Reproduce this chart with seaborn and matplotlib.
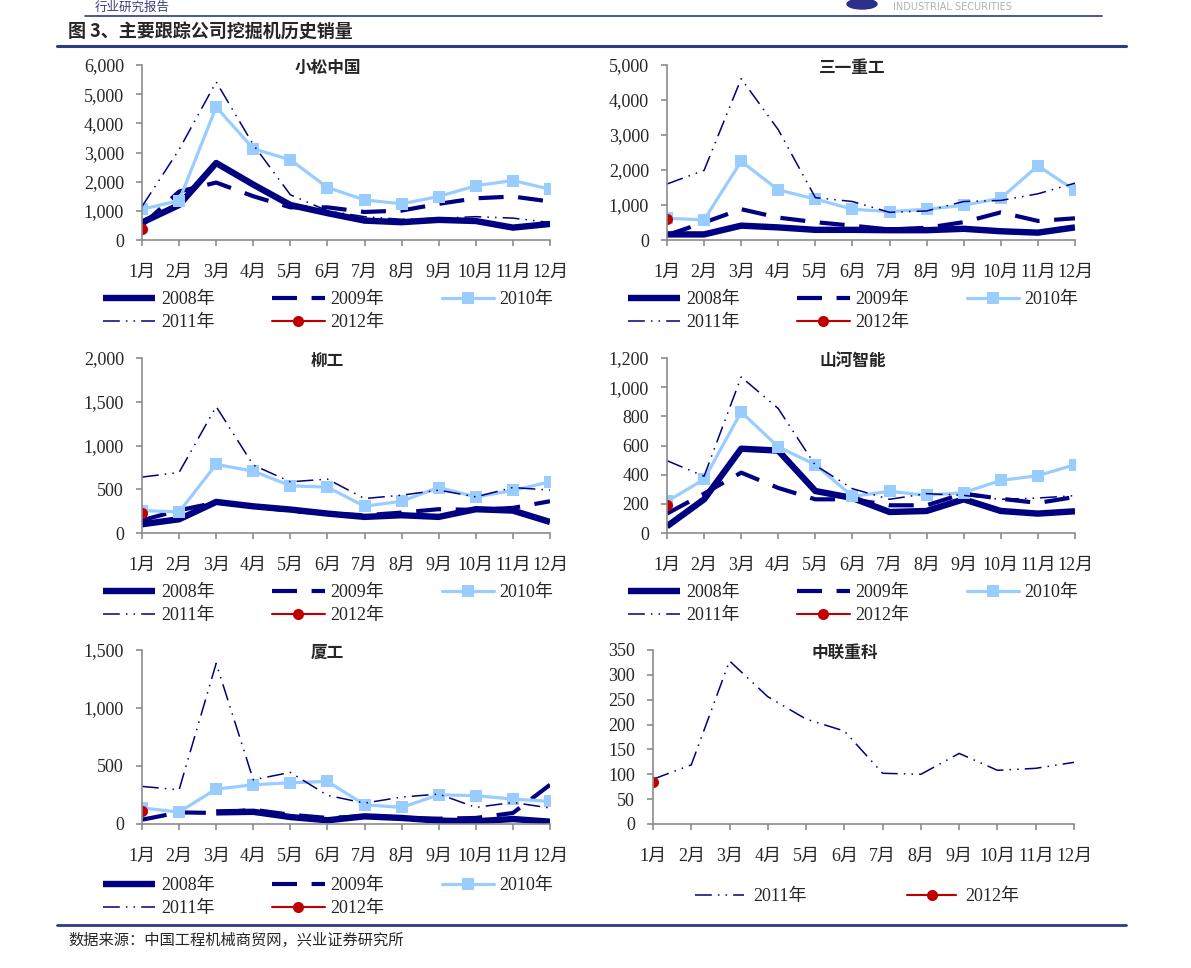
import numpy as np
import seaborn as sns
import matplotlib.pyplot as plt
from matplotlib.ticker import StrMethodFormatter, MultipleLocator
from matplotlib.patches import Ellipse
from matplotlib.lines import Line2D

nan = np.nan
months = [f"{i}月" for i in range(1, 13)]
years = ["2008年", "2009年", "2010年", "2011年", "2012年"]

# 小松中国
komatsu_08 = [600, 1200, 2640, 1900, 1200, 920, 665, 610, 690, 650, 425, 550]
komatsu_09 = [500, 1660, 1970, 1500, 1120, 1120, 960, 1010, 1240, 1430, 1490, 1320]
komatsu_10 = [1055, 1350, 4560, 3130, 2750, 1800, 1375, 1240, 1490, 1860, 2040, 1740]
komatsu_11 = [1150, 3100, 5420, 3270, 1550, 1000, 800, 710, 745, 800, 750, 600]
komatsu_12 = [370] + [nan] * 11

# 三一重工
sany_08 = [160, 160, 410, 360, 290, 290, 280, 280, 320, 250, 210, 360]
sany_09 = [140, 500, 880, 640, 510, 410, 300, 350, 510, 790, 545, 620]
sany_10 = [620, 575, 2250, 1430, 1170, 880, 810, 880, 990, 1195, 2120, 1415]
sany_11 = [1600, 1990, 4610, 3150, 1210, 1100, 790, 830, 1100, 1130, 1320, 1625]
sany_12 = [600] + [nan] * 11

# 柳工
liugong_08 = [100, 157, 355, 305, 268, 222, 184, 203, 184, 272, 256, 126]
liugong_09 = [145, 260, 348, 305, 252, 222, 203, 233, 272, 264, 287, 363]
liugong_10 = [256, 241, 784, 707, 540, 524, 306, 363, 520, 413, 486, 585]
liugong_11 = [639, 692, 1445, 776, 585, 616, 394, 432, 490, 413, 520, 490]
liugong_12 = [230] + [nan] * 11

# 山河智能
sunward_08 = [46, 231, 578, 565, 288, 240, 144, 151, 231, 151, 133, 149]
sunward_09 = [133, 270, 414, 309, 231, 231, 190, 190, 270, 235, 206, 247]
sunward_10 = [217, 368, 830, 590, 469, 251, 286, 258, 277, 361, 393, 469]
sunward_11 = [496, 389, 1070, 853, 464, 304, 231, 270, 258, 231, 240, 256]
sunward_12 = [192] + [nan] * 11

# 厦工
xgma_08 = [nan, nan, 100, 105, 60, 32, 66, 52, 29, 23, 43, 20]
xgma_09 = [37, 100, 95, 123, 80, 52, 66, 52, 46, 52, 95, 338]
xgma_10 = [138, 103, 301, 338, 356, 367, 166, 143, 252, 244, 215, 195]
xgma_11 = [324, 295, 1385, 381, 445, 247, 180, 232, 258, 143, 186, 138]
xgma_12 = [115] + [nan] * 11

# 中联重科
zoomlion_11 = [90, 119, 328, 256, 211, 187, 102, 100, 142, 108, 112, 124]
zoomlion_12 = [84] + [nan] * 11

navy = "#000080"
styles = {
    "2008年": dict(color=navy, linewidth=4.6, solid_capstyle="butt"),
    "2009年": dict(color=navy, linewidth=3.0, linestyle=(0, (6, 3.5))),
    "2010年": dict(color="#99CCFF", linewidth=2.3, marker="s", markersize=9,
                   markeredgewidth=0),
    "2011年": dict(color=navy, linewidth=1.1, linestyle=(0, (11, 4, 1, 4, 1, 4))),
    "2012年": dict(color="#C00000", linewidth=1.5, marker="o", markersize=8,
                   markeredgewidth=0),
}

sns.set_style("white")
plt.rcParams["font.family"] = ["Liberation Serif", "Noto Sans CJK SC", "DejaVu Sans"]
plt.rcParams["axes.unicode_minus"] = False

W, H = 1191, 968
fig = plt.figure(figsize=(W / 100, H / 100), dpi=100)


def fx(px):
    return px / W


def fy(py):
    return 1 - py / H


def panel(rect, title, series, ymax, step, legend_xy, two_col=False):
    left, right, top, bottom = rect
    ax = fig.add_axes([fx(left), fy(bottom), fx(right - left), (bottom - top) / H])
    x = np.arange(12)
    for year, vals in series:
        sns.lineplot(x=x, y=vals, ax=ax, label=year, **styles[year])
    ax.set_xlim(0, 11)
    ax.set_ylim(0, ymax)
    ax.yaxis.set_major_locator(MultipleLocator(step))
    ax.yaxis.set_major_formatter(StrMethodFormatter("{x:,.0f}"))
    ax.set_xticks(x)
    ax.set_xticklabels(months)
    ax.set_xlabel("")
    ax.set_ylabel("")
    for s in ["top", "right"]:
        ax.spines[s].set_visible(False)
    for s in ["left", "bottom"]:
        ax.spines[s].set_color("#8c8c8c")
        ax.spines[s].set_linewidth(1.2)
    ax.tick_params(axis="x", direction="out", length=4, width=1.2, color="#8c8c8c",
                   pad=13, labelsize=13, bottom=True)
    ax.tick_params(axis="y", direction="out", length=4, width=1.2, color="#8c8c8c",
                   pad=9, labelsize=13, left=True)
    ax.text(0.455, 0.985, title, transform=ax.transAxes, ha="center", va="center",
            fontsize=12, fontweight="bold", family=["Noto Sans CJK SC"])
    handles, labels = ax.get_legend_handles_labels()
    if two_col:
        ax.legend(handles, labels, ncol=2, loc="center left",
                  bbox_to_anchor=(fx(legend_xy[0]), fy(legend_xy[1])),
                  bbox_transform=fig.transFigure, frameon=False, fontsize=13,
                  handlelength=2.7, handletextpad=0.5, columnspacing=5.6,
                  borderpad=0, borderaxespad=0)
    else:
        order = [0, 3, 1, 4, 2]
        ax.legend([handles[i] for i in order], [labels[i] for i in order], ncol=3,
                  loc="center left",
                  bbox_to_anchor=(fx(legend_xy[0]), fy(legend_xy[1])),
                  bbox_transform=fig.transFigure, frameon=False, fontsize=13,
                  handlelength=2.9, handletextpad=0.3, columnspacing=3.2,
                  labelspacing=0.35, borderpad=0, borderaxespad=0)
    return ax


def five(a, b, c, d, e):
    return list(zip(years, [a, b, c, d, e]))


panel((142, 550, 65, 240), "小松中国",
      five(komatsu_08, komatsu_09, komatsu_10, komatsu_11, komatsu_12),
      6000, 1000, (103, 311))
panel((667, 1075, 65, 240), "三一重工",
      five(sany_08, sany_09, sany_10, sany_11, sany_12),
      5000, 1000, (628, 311))
panel((142, 550, 358, 533), "柳工",
      five(liugong_08, liugong_09, liugong_10, liugong_11, liugong_12),
      2000, 500, (103, 604))
panel((667, 1075, 358, 533), "山河智能",
      five(sunward_08, sunward_09, sunward_10, sunward_11, sunward_12),
      1200, 200, (628, 604))
panel((142, 550, 650, 824), "厦工",
      five(xgma_08, xgma_09, xgma_10, xgma_11, xgma_12),
      1500, 500, (103, 897))
panel((653, 1074, 650, 824), "中联重科",
      [("2011年", zoomlion_11), ("2012年", zoomlion_12)],
      350, 50, (695, 897), two_col=True)

# page decorations
line_color = "#2e3a87"
fig.add_artist(Line2D([fx(85), fx(1102)], [fy(16), fy(16)], color=line_color, lw=1.2))
fig.add_artist(Line2D([fx(57), fx(1126)], [fy(46), fy(46)], color=line_color, lw=2.2))
fig.add_artist(Line2D([fx(57), fx(1126)], [fy(925), fy(925)], color=line_color, lw=2.0))
fig.text(fx(95), fy(7), "行业研究报告", fontsize=9, color="#3a3f78",
         family=["Noto Sans CJK SC"], va="center", ha="left")
fig.add_artist(Ellipse((fx(862), fy(4)), fx(30), 10 / H, color="#2a2f8a"))
fig.text(fx(893), fy(7), "INDUSTRIAL SECURITIES", fontsize=7, color="#b0b0b8",
         family=["DejaVu Sans"], va="center", ha="left")
fig.text(fx(68), fy(32), "图 3、主要跟踪公司挖掘机历史销量", fontsize=13,
         fontweight="bold", family=["Noto Sans CJK SC"], va="center", ha="left")
fig.text(fx(68), fy(940), "数据来源：中国工程机械商贸网，兴业证券研究所", fontsize=11,
         family=["Noto Sans CJK SC"], va="center", ha="left")

fig.savefig("out.png", dpi=100)
